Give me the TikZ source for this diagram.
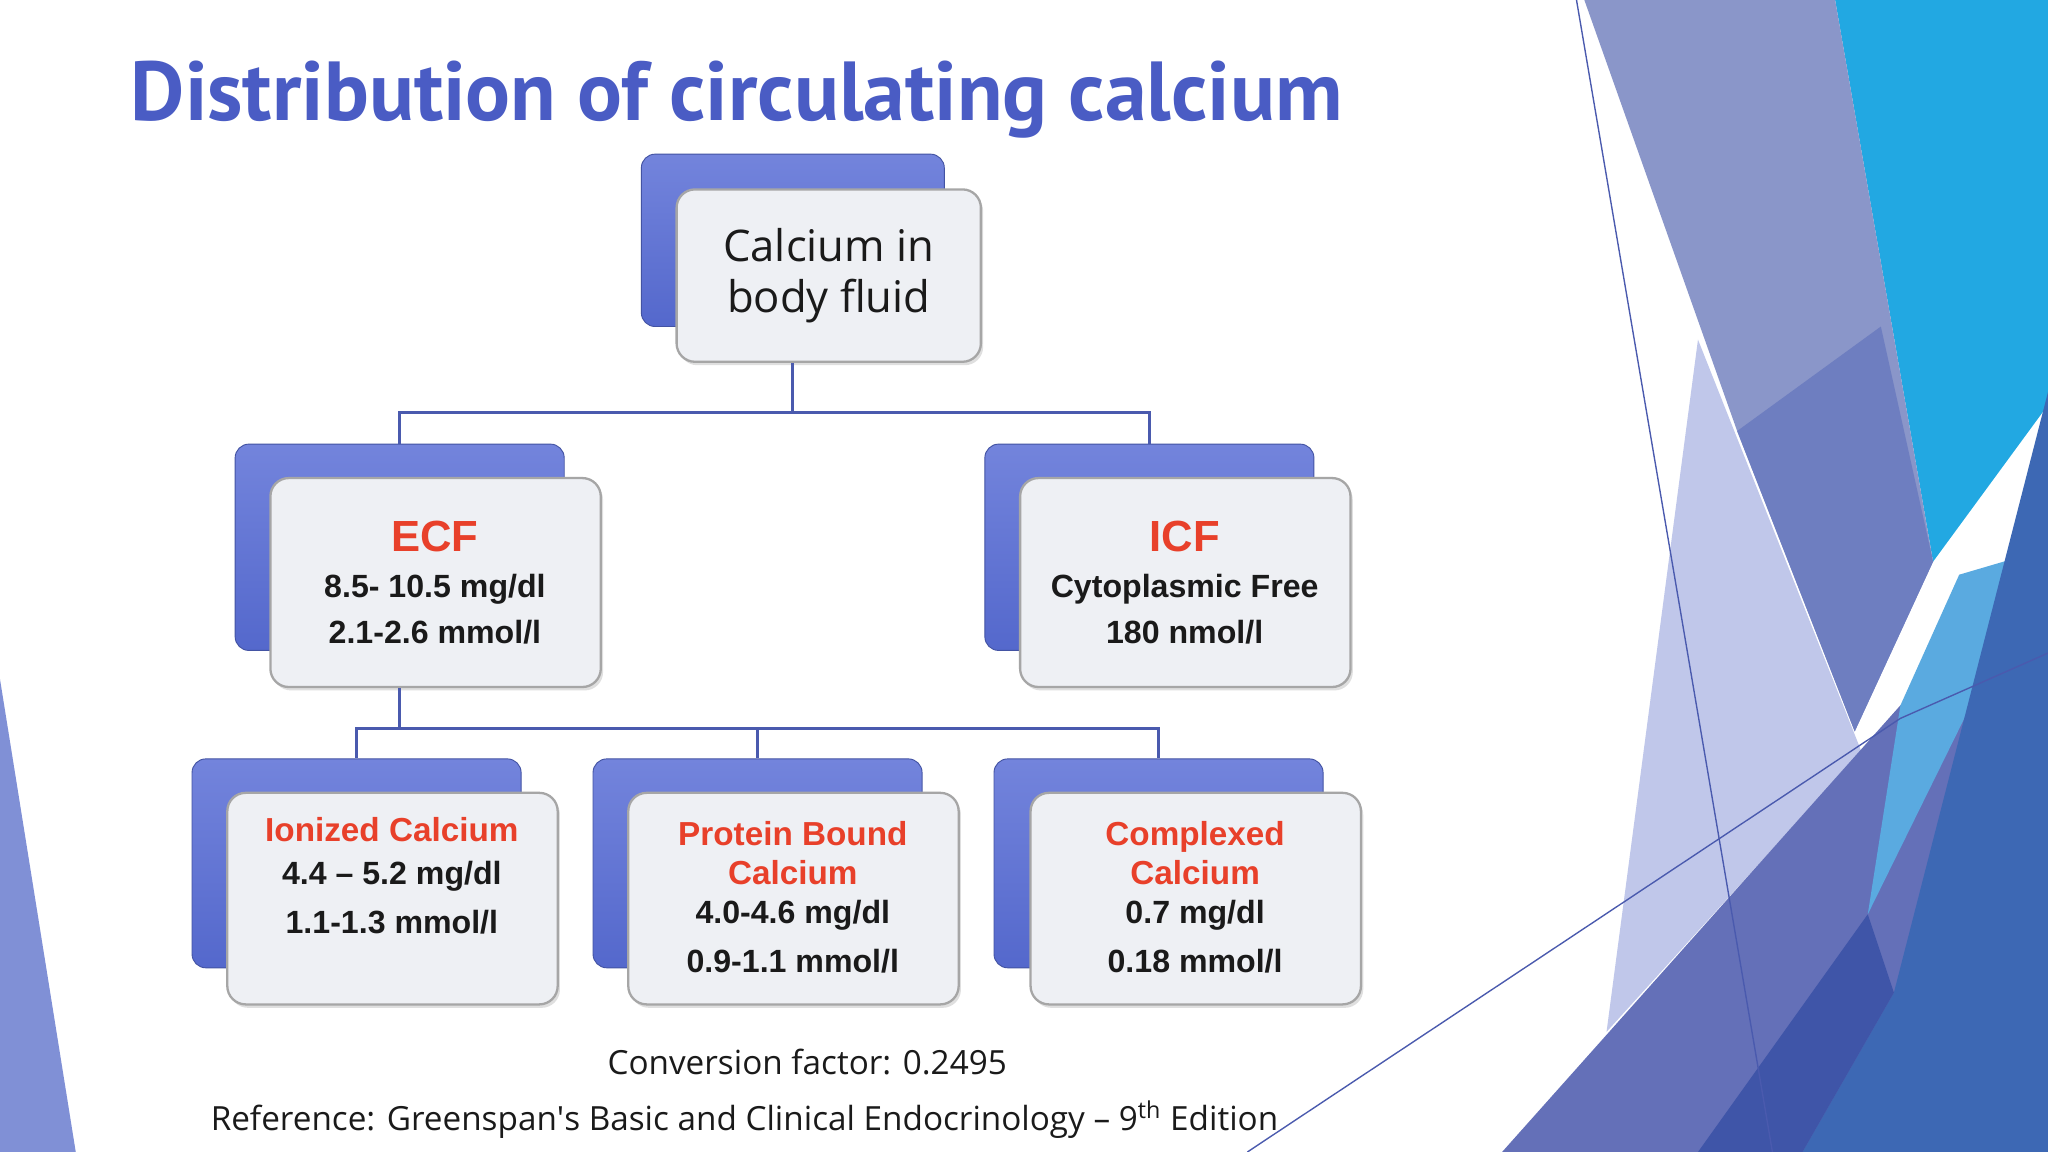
\documentclass[tikz,border=0pt]{standalone}
\usepackage{fontspec}
\setmainfont{Open Sans}
\newfontfamily\hdfont{Liberation Sans}
\newfontfamily\ttlfont{PT Sans}
\usetikzlibrary{shadows}
\definecolor{ttl}{HTML}{4A5CC4}
\definecolor{bk}{HTML}{5468CC}
\definecolor{bkt}{HTML}{7384DC}
\definecolor{fr}{HTML}{EEF0F4}
\definecolor{rd}{HTML}{E8402A}
\definecolor{ln}{HTML}{4A5AAE}
\definecolor{txt}{HTML}{1A1A1A}
\tikzset{
 backbox/.style={rounded corners=6pt, top color=bkt, bottom color=bk, draw=bk!80!black, line width=0.4pt},
 frontbox/.style={rounded corners=8pt, fill=fr, draw=gray!70, line width=1pt, drop shadow={opacity=0.25,shadow xshift=1pt,shadow yshift=-1.5pt}},
 conn/.style={draw=ln, line width=1.3pt},
 hd/.style={font=\hdfont\bfseries\fontsize{19}{22}\selectfont, text=rd},
 hds/.style={font=\hdfont\bfseries\fontsize{14.5}{17}\selectfont, text=rd, align=center},
 val/.style={font=\hdfont\bfseries\fontsize{14}{17}\selectfont, text=txt},
 foot/.style={font=\fontsize{14.5}{17}\selectfont, text=txt}
}
\begin{document}
\begin{tikzpicture}[x=0.02cm,y=-0.02cm]
\useasboundingbox (0,0) rectangle (1568,882);
\fill[white] (0,0) rectangle (1568,882);
% decoration
\fill[fill={rgb,255:red,128;green,144;blue,214}] (0,520) -- (58,882) -- (0,882) -- cycle;
\fill[fill={rgb,255:red,34;green,168;blue,226}] (1405,0) -- (1568,0) -- (1568,310) -- (1480,430) -- cycle;
\fill[fill={rgb,255:red,138;green,150;blue,201}] (1213,0) -- (1405,0) -- (1480,430) -- (1420,560) -- (1330,330) -- cycle;
\fill[fill={rgb,255:red,110;green,126;blue,192}] (1330,330) -- (1420,560) -- (1480,430) -- (1440,250) -- cycle;
\fill[fill={rgb,255:red,192;green,199;blue,234}] (1300,260) -- (1425,575) -- (1230,790) -- cycle;
\fill[fill={rgb,255:red,100;green,112;blue,184}] (1150,882) -- (1455,540) -- (1568,490) -- (1568,882) -- cycle;
\fill[fill={rgb,255:red,90;green,170;blue,224}] (1455,540) -- (1500,440) -- (1568,420) -- (1430,700) -- cycle;
\fill[fill={rgb,255:red,61;green,104;blue,180}] (1568,300) -- (1568,882) -- (1380,882) -- (1450,760) -- cycle;
\fill[fill={rgb,255:red,63;green,85;blue,168}] (1380,882) -- (1450,760) -- (1430,700) -- (1300,882) -- cycle;
\draw[ln, line width=0.6pt] (1207,0) -- (1357,882);
\draw[ln, line width=0.6pt] (955,882) -- (1455,550) -- (1568,500);
% title
\node[anchor=west, text=ttl, font=\ttlfont\bfseries\fontsize{36.5}{42}\selectfont] (title) at (94,76) {Distribution of circulating calcium};
% boxes
\node[backbox, minimum width=4.64cm, minimum height=2.64cm] (topb) at (607,184) {};
\node[frontbox, minimum width=4.66cm, minimum height=2.64cm] (topf) at (634.5,211) {};
\node[font=\fontsize{19}{22}\selectfont, align=center, text=txt] (toptx) at (634.5,211) {Calcium in\\body fluid};
\node[backbox, minimum width=5.04cm, minimum height=3.16cm] (ecfb) at (306,419) {};
\node[frontbox, minimum width=5.06cm, minimum height=3.2cm] (ecff) at (333.5,446) {};
\node[hd] (ecfh) at (333,411) {ECF};
\node[val] (ecf1) at (333,451) {8.5- 10.5 mg/dl};
\node[val] (ecf2) at (333,484) {2.1-2.6 mmol/l};
\node[backbox, minimum width=5.04cm, minimum height=3.16cm] (icfb) at (880,419) {};
\node[frontbox, minimum width=5.06cm, minimum height=3.2cm] (icff) at (907.5,446) {};
\node[hd] (icfh) at (907,411) {ICF};
\node[val] (icf1) at (907,451) {Cytoplasmic Free};
\node[val] (icf2) at (907,484) {180 nmol/l};
\node[backbox, minimum width=5.04cm, minimum height=3.2cm] (ionb) at (273,661) {};
\node[frontbox, minimum width=5.06cm, minimum height=3.24cm] (ionf) at (300.5,688) {};
\node[hds] (ionh) at (300,635) {Ionized Calcium};
\node[val] (ion1) at (300,671) {4.4 – 5.2 mg/dl};
\node[val] (ion2) at (300,706) {1.1-1.3 mmol/l};
\node[backbox, minimum width=5.04cm, minimum height=3.2cm] (prob) at (580,661) {};
\node[frontbox, minimum width=5.06cm, minimum height=3.24cm] (prof) at (607.5,688) {};
\node[hds] (proh) at (607,653) {Protein Bound\\Calcium};
\node[val] (pro1) at (607,701) {4.0-4.6 mg/dl};
\node[val] (pro2) at (607,736) {0.9-1.1 mmol/l};
\node[backbox, minimum width=5.04cm, minimum height=3.2cm] (comb) at (887,661) {};
\node[frontbox, minimum width=5.06cm, minimum height=3.24cm] (comf) at (915.5,688) {};
\node[hds] (comh) at (915,653) {Complexed\\Calcium};
\node[val] (com1) at (915,701) {0.7 mg/dl};
\node[val] (com2) at (915,736) {0.18 mmol/l};
% connectors
\coordinate (j1) at (607,316);
\coordinate (j2) at (306,558);
\path[conn] (topb.center |- topf.south) -- (j1) -| (ecfb.north);
\path[conn] (j1) -| (icfb.north);
\path[conn] (ecfb.center |- ecff.south) -- (j2) -| (ionb.north);
\path[conn] (j2) -| (prob.north);
\path[conn] (j2) -| (comb.north);
% footer
\node[foot] (conv) at (618,813) {Conversion factor: 0.2495};
\node[foot] (ref) at (570,857) {Reference: Greenspan\textquotesingle s Basic and Clinical Endocrinology – 9\textsuperscript{th} Edition};
\end{tikzpicture}
\end{document}
